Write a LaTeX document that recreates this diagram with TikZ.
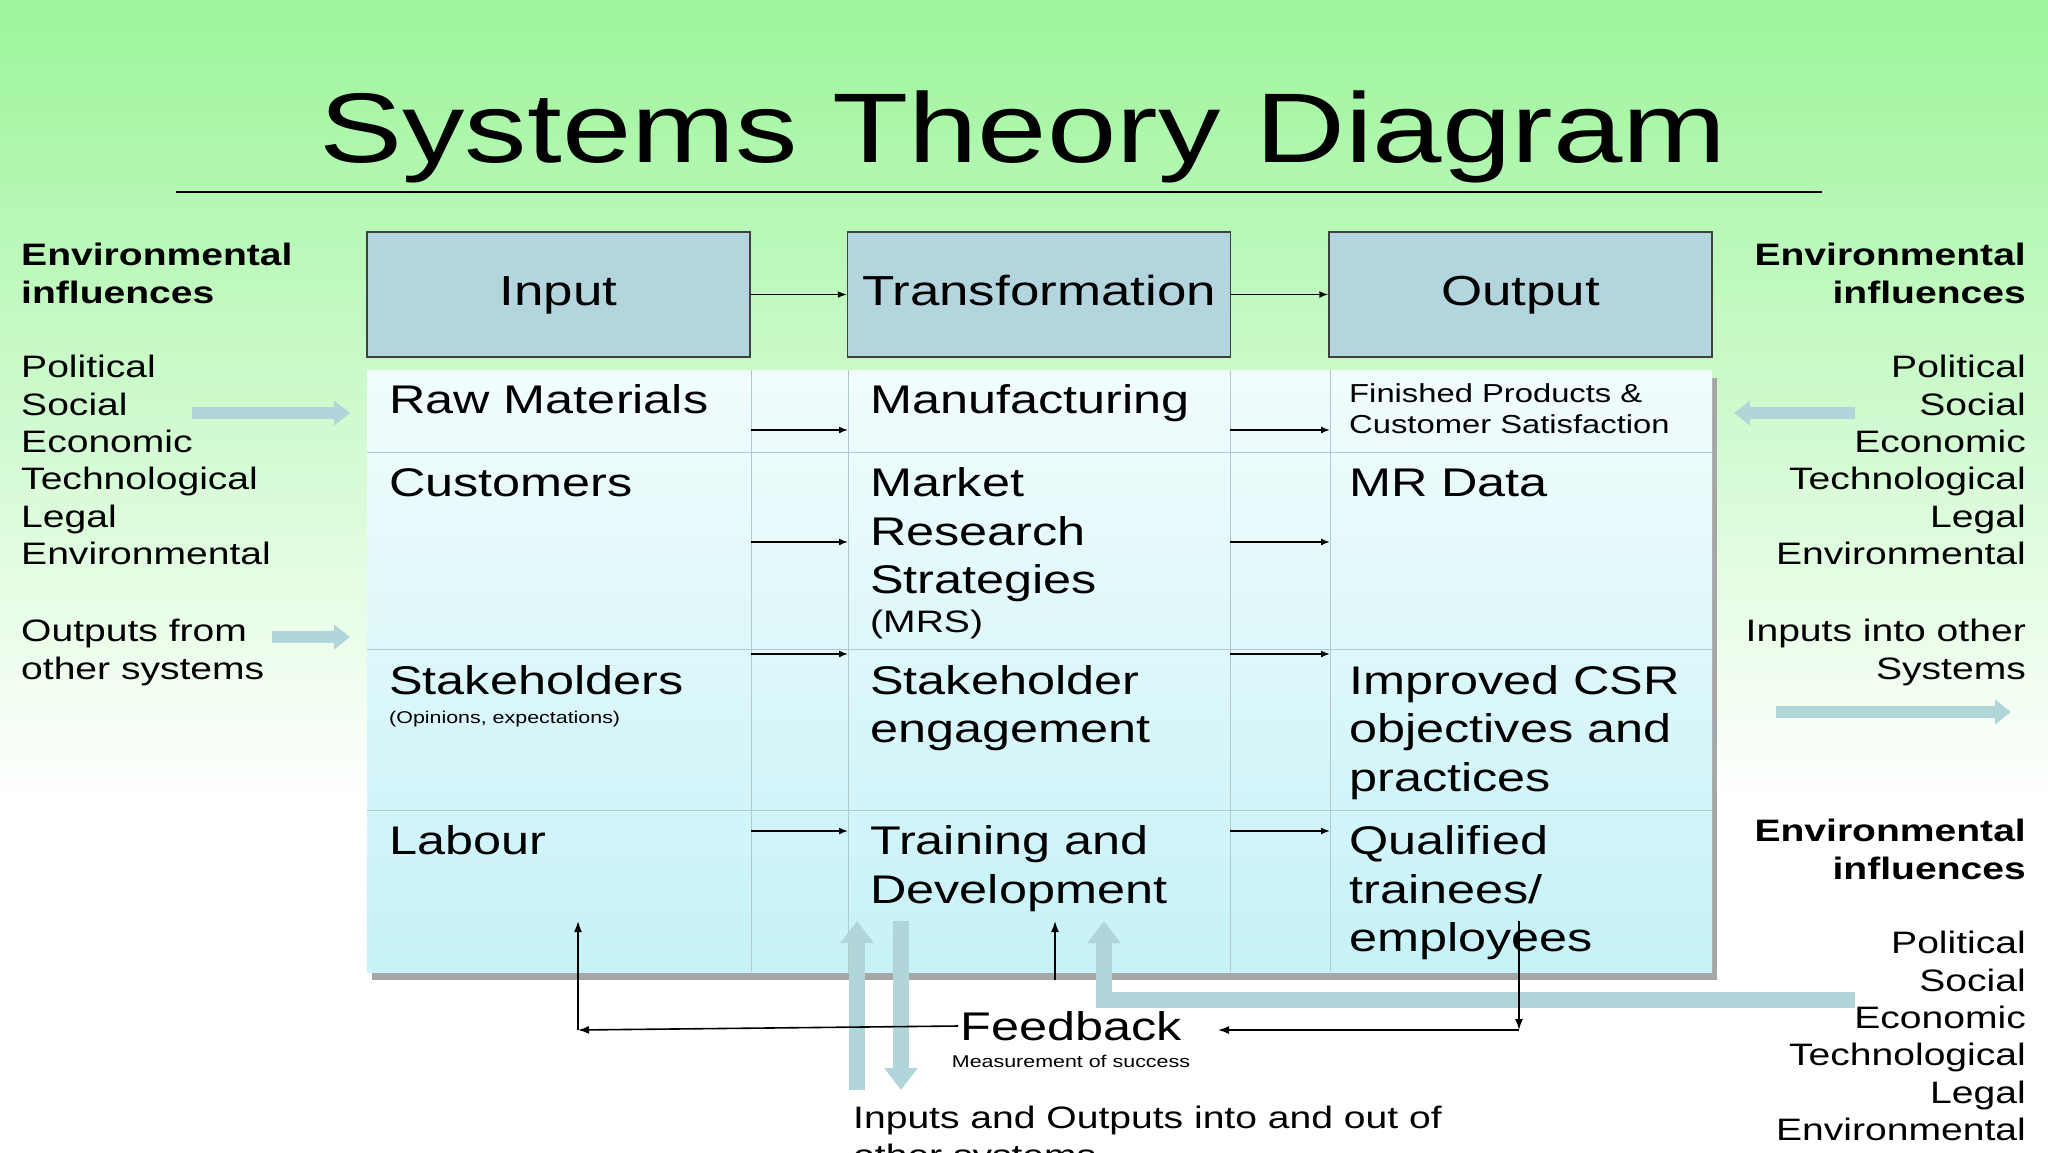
\documentclass[tikz,border=0pt]{standalone}
\usepackage{fontspec}
\setmainfont[FakeStretch=1.26]{Liberation Sans}
\usetikzlibrary{arrows.meta}
\definecolor{bggreen}{HTML}{9CF59A}
\definecolor{hdr}{HTML}{B3D6DE}
\definecolor{pale}{HTML}{B0D6DA}
\definecolor{celltop}{HTML}{F2FCFC}
\definecolor{cellbot}{HTML}{C6F2F8}
\definecolor{grid}{HTML}{AFC9CC}
\begin{document}
\begin{tikzpicture}[x=1pt,y=-1pt,
  txt/.style={font=\fontsize{40}{40}\selectfont,anchor=base west,inner sep=0},
  side/.style={font=\fontsize{31}{37.4}\selectfont,inner sep=0},
  sideb/.style={font=\fontsize{31}{37.4}\selectfont\bfseries,inner sep=0},
  hbox/.style={draw=black!75,line width=1.5pt,fill=hdr,minimum width=383pt,minimum height=125pt,font=\fontsize{42}{42}\selectfont,inner sep=0,text height=30pt,text depth=8pt},
  sarr/.style={-{Latex[length=9pt,width=7pt]},line width=1.6pt},
  thin/.style={-{Latex[length=11pt,width=8pt]},line width=1.6pt},
  fat/.style={-{Triangle[length=22pt,width=32pt]},line width=16pt,draw=pale},
  fat2/.style={fat,line width=12pt,-{Triangle[length=16pt,width=24pt]}}]
\clip (0,0) rectangle (2048,1152);
\shade[top color=bggreen,bottom color=white] (0,0) rectangle (2048,800);
\fill[white] (0,799) rectangle (2048,1152);
% title
\node[font=\fontsize{99}{99}\selectfont,anchor=base] (title) at (1023,162) {Systems Theory Diagram};
\draw[line width=1.5pt] (176,192) -- (1822,192);
% table
\fill[black!35] (372,378) rectangle (1717,980);
\shade[top color=celltop,bottom color=cellbot] (367,370) rectangle (1712,972);
\foreach \y in {452,649,810} \draw[grid,line width=1pt] (367,\y) -- (1712,\y);
\foreach \x in {751,848,1230,1330} \draw[grid,line width=1pt] (\x,370) -- (\x,972);
% headers
\node[hbox] (in) at (558.5,294.5) {Input};
\node[hbox] (tr) at (1039,294.5) {Transformation};
\node[hbox] (out) at (1520.5,294.5) {Output};
\draw[sarr] (in) -- (tr);
\draw[sarr] (tr) -- (out);
% row arrows
\foreach \y in {430,542,654,831}{
  \coordinate (a\y) at (751,\y); \coordinate (b\y) at (848,\y);
  \coordinate (c\y) at (1230,\y); \coordinate (d\y) at (1330,\y);
  \draw[sarr] (a\y) -- (b\y); \draw[sarr] (c\y) -- (d\y);}
% cell texts
\node[txt] (rm) at (389,413) {Raw Materials};
\node[txt] (mf) at (870,413) {Manufacturing};
\node[txt,font=\fontsize{26}{26}\selectfont] (fp) at (1349,402) {Finished Products \&};
\node[txt,font=\fontsize{26}{26}\selectfont] (cs) at (1349,433) {Customer Satisfaction};
\node[txt] (cu) at (389,496) {Customers};
\node[txt] (m1) at (870,496) {Market};
\node[txt] (m2) at (870,545) {Research};
\node[txt] (m3) at (870,593) {Strategies};
\node[txt,font=\fontsize{31}{31}\selectfont] (m4) at (870,632) {(MRS)};
\node[txt] (mr) at (1349,496) {MR Data};
\node[txt] (st) at (389,694) {Stakeholders};
\node[txt,font=\fontsize{17}{17}\selectfont] (op) at (389,723) {(Opinions, expectations)};
\node[txt] (s1) at (870,694) {Stakeholder};
\node[txt] (s2) at (870,742) {engagement};
\node[txt] (i1) at (1349,694) {Improved CSR};
\node[txt] (i2) at (1349,742) {objectives and};
\node[txt] (i3) at (1349,791) {practices};
\node[txt] (lb) at (389,854) {Labour};
\node[txt] (t1) at (870,854) {Training and};
\node[txt] (t2) at (870,903) {Development};
\node[txt] (q1) at (1349,854) {Qualified};
\node[txt] (q2) at (1349,903) {trainees/};
\node[txt] (q3) at (1349,951) {employees};
% left side
\node[sideb,anchor=north west,align=left] (lenv) at (21,243) {Environmental\\influences};
\node[side,anchor=north west,align=left] (lpol) at (21,355) {Political\\Social\\Economic\\Technological\\Legal\\Environmental};
\node[side,anchor=north west,align=left] (lout) at (21,619) {Outputs from\\other systems};
\coordinate (la1) at (192,413); \coordinate (la2) at (350,413);
\coordinate (lb1) at (272,637); \coordinate (lb2) at (350,637);
\draw[fat2] (la1) -- (la2);
\draw[fat2] (lb1) -- (lb2);
% right side
\node[sideb,anchor=north east,align=right] (renv) at (2026,243) {Environmental\\influences};
\node[side,anchor=north east,align=right] (rpol) at (2026,355) {Political\\Social\\Economic\\Technological\\Legal\\Environmental};
\node[side,anchor=north east,align=right] (rin) at (2026,619) {Inputs into other\\Systems};
\coordinate (ra1) at (1855,413); \coordinate (ra2) at (1734,413);
\coordinate (rb1) at (1776,712); \coordinate (rb2) at (2011,712);
\draw[fat2] (ra1) -- (ra2);
\draw[fat2] (rb1) -- (rb2);
\node[sideb,anchor=north east,align=right] (renv2) at (2026,819) {Environmental\\influences};
\node[side,anchor=north east,align=right] (rpol2) at (2026,931) {Political\\Social\\Economic\\Technological\\Legal\\Environmental};
% feedback
\node[font=\fontsize{40}{40}\selectfont,inner sep=2pt] (fb) at (1071,1026) {Feedback};
\node[font=\fontsize{17}{17}\selectfont,inner sep=0] (ms) at (1071,1061) {Measurement of success};
\coordinate (fl) at (578,1030); \coordinate (ft) at (578,921);
\coordinate (rt) at (1519,921); \coordinate (rc) at (1519,1030); \coordinate (re) at (1218,1030);
\coordinate (cb) at (1055,980); \coordinate (ct) at (1055,921);
% fat pale arrows
\coordinate (u1) at (857,1090); \coordinate (u2) at (857,921);
\coordinate (d1) at (901,921); \coordinate (d2) at (901,1090);
\coordinate (e1) at (1855,1000); \coordinate (e2) at (1104,1000); \coordinate (e3) at (1104,921);
\draw[fat] (u1) -- (u2);
\draw[fat] (d1) -- (d2);
\draw[fat] (e1) -- (e2) -- (e3);
\draw[thin] (fb.west) -- (fl);
\draw[thin] (fl) -- (ft);
\draw[thin] (rt) -- (rc);
\draw[thin] (rc) -- (re);
\draw[thin] (cb) -- (ct);
\node[side,anchor=north west,align=left] (io) at (853,1106) {Inputs and Outputs into and out of\\other systems};
\end{tikzpicture}
\end{document}
